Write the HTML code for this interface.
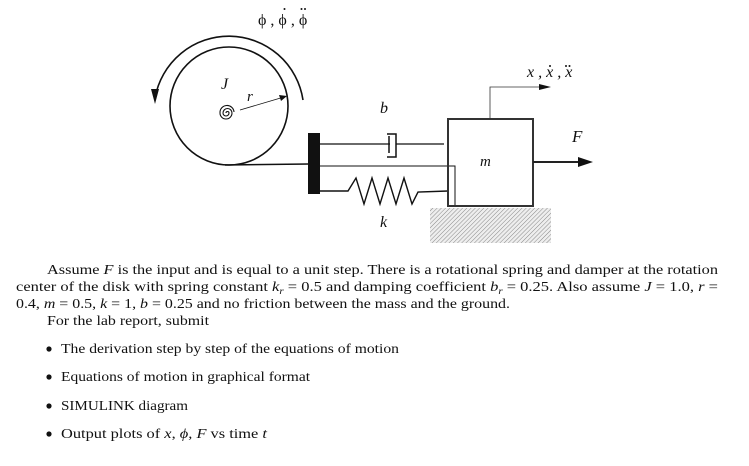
<!DOCTYPE html>
<html><head><meta charset="utf-8"><style>
html,body{margin:0;padding:0;background:#fff}
svg{display:block}
text{font-family:"Liberation Serif",serif;fill:#111}
.i{font-style:italic}
</style></head><body>
<svg width="749" height="466" viewBox="0 0 749 466" xmlns="http://www.w3.org/2000/svg">
<defs>
<pattern id="h" width="3" height="3" patternUnits="userSpaceOnUse" patternTransform="rotate(45)">
<rect width="3" height="3" fill="#eee"/><line x1="0" y1="0" x2="0" y2="3" stroke="#888" stroke-width="1"/>
</pattern>
</defs>
<circle cx="229" cy="106" r="59" fill="none" stroke="#111" stroke-width="1.6"/>
<path d="M155 98 A75 75 0 0 1 303 100" fill="none" stroke="#111" stroke-width="1.6"/>
<polygon points="151,89 159,89 155,104" fill="#111"/>
<path d="M226 113 a1.5 1.5 0 0 1 3 0 a3 3 0 0 1 -6 0 a4.5 4.5 0 0 1 9 0 a6 6 0 0 1 -12 0 a7 7 0 0 1 14 -1" fill="none" stroke="#111" stroke-width="1.1"/>
<line x1="240" y1="110" x2="284" y2="97" stroke="#111" stroke-width="0.8"/>
<polygon points="287,96 279,95 281,101" fill="#111"/>
<text x="221" y="89" class="i" font-size="16">J</text>
<text x="247" y="101" class="i" font-size="15">r</text>
<text x="258" y="25" font-size="16">ϕ , ϕ , ϕ</text>
<circle cx="284.5" cy="9" r="1" fill="#111"/>
<circle cx="301.5" cy="9" r="1" fill="#111"/>
<circle cx="305" cy="9" r="1" fill="#111"/>
<line x1="225" y1="165" x2="309" y2="164" stroke="#111" stroke-width="1.5"/>
<rect x="308" y="133" width="12" height="61" fill="#111"/>
<line x1="320" y1="144" x2="390" y2="144" stroke="#111" stroke-width="1.3"/>
<line x1="389" y1="136" x2="389" y2="153" stroke="#111" stroke-width="1.5"/>
<path d="M387 134 H396 V157 H387" fill="none" stroke="#111" stroke-width="1.5"/>
<line x1="396" y1="144" x2="444" y2="144" stroke="#111" stroke-width="1.3"/>
<text x="380" y="113" class="i" font-size="16">b</text>
<line x1="320" y1="166" x2="455" y2="166" stroke="#111" stroke-width="1"/>
<rect x="448" y="166" width="7" height="40" fill="#fff" stroke="#111" stroke-width="1"/>
<polyline points="320,191 348,191 356,178 364,204 372,178 380,204 388,178 396,204 404,178 412,204 418,192 448,191" fill="none" stroke="#111" stroke-width="1.4"/>
<text x="380" y="227" class="i" font-size="16">k</text>
<rect x="430" y="208" width="121" height="35" fill="url(#h)"/>
<rect x="448" y="119" width="85" height="87" fill="none" stroke="#333" stroke-width="2"/>
<text x="480" y="166" class="i" font-size="15">m</text>
<line x1="533" y1="162" x2="580" y2="162" stroke="#222" stroke-width="2"/>
<polygon points="578,157 593,162 578,167" fill="#111"/>
<text x="572" y="142" class="i" font-size="17">F</text>
<polyline points="490,119 490,87 540,87" fill="none" stroke="#333" stroke-width="0.8"/>
<polygon points="539,84 551,87 539,90" fill="#111"/>
<text x="527" y="77" class="i" font-size="16">x , x , x</text>
<circle cx="550" cy="66" r="1" fill="#111"/>
<circle cx="566" cy="66" r="1" fill="#111"/>
<circle cx="569.5" cy="66" r="1" fill="#111"/>
<g font-size="13.5">
<text x="47" y="274" textLength="671" lengthAdjust="spacingAndGlyphs">Assume <tspan class="i">F</tspan> is the input and is equal to a unit step. There is a rotational spring and damper at the rotation</text>
<text x="16" y="291" textLength="702" lengthAdjust="spacingAndGlyphs">center of the disk with spring constant <tspan class="i">k</tspan><tspan font-size="9" class="i" dy="3">r</tspan><tspan dy="-3"> = 0.5 and damping coefficient </tspan><tspan class="i">b</tspan><tspan font-size="9" class="i" dy="3">r</tspan><tspan dy="-3"> = 0.25. Also assume </tspan><tspan class="i">J</tspan> = 1.0, <tspan class="i">r</tspan> =</text>
<text x="16" y="308" textLength="494" lengthAdjust="spacingAndGlyphs">0.4, <tspan class="i">m</tspan> = 0.5, <tspan class="i">k</tspan> = 1, <tspan class="i">b</tspan> = 0.25 and no friction between the mass and the ground.</text>
<text x="47" y="325" textLength="162" lengthAdjust="spacingAndGlyphs">For the lab report, submit</text>
</g>
<g font-size="13.5">
<circle cx="49" cy="349" r="2.6" fill="#111"/>
<text x="61" y="353" textLength="338" lengthAdjust="spacingAndGlyphs">The derivation step by step of the equations of motion</text>
<circle cx="49" cy="377" r="2.6" fill="#111"/>
<text x="61" y="381" textLength="249" lengthAdjust="spacingAndGlyphs">Equations of motion in graphical format</text>
<circle cx="49" cy="406" r="2.6" fill="#111"/>
<text x="61" y="410" textLength="127" lengthAdjust="spacingAndGlyphs">SIMULINK diagram</text>
<circle cx="49" cy="434" r="2.6" fill="#111"/>
<text x="61" y="438" textLength="206" lengthAdjust="spacingAndGlyphs">Output plots of <tspan class="i">x</tspan>, <tspan class="i">ϕ</tspan>, <tspan class="i">F</tspan> vs time <tspan class="i">t</tspan></text>
</g>
</svg>
</body></html>
